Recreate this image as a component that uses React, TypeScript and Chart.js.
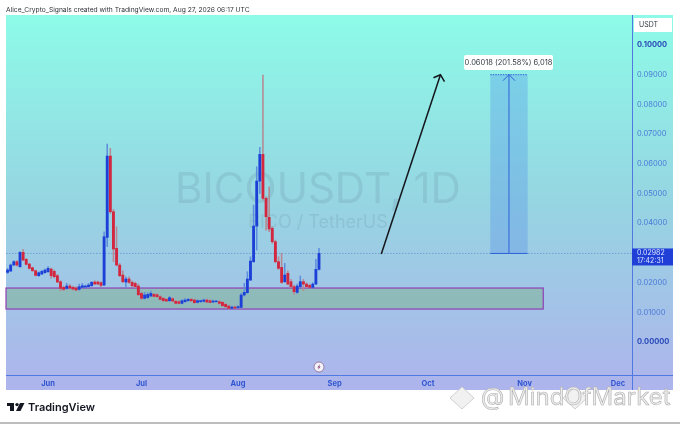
import { useEffect, useRef } from 'react';
import { Chart, registerables } from 'chart.js';

Chart.register(...registerables);

const startDate = Date.UTC(2026, 4, 19);
const dayMs = 86400000;
// one category per day, May 19 -> Dec 5
const days = Array.from({ length: 201 }, (_, i) => new Date(startDate + i * dayMs).toISOString().slice(0, 10));

const opens = [
  0.02345, 0.0239, 0.02592, 0.02704, 0.02536, 0.03018, 0.02783, 0.02625, 0.02502, 0.02401,
  0.02233, 0.02289, 0.02334, 0.02367, 0.02457, 0.02379, 0.02233, 0.02031, 0.0184, 0.01806,
  0.01885, 0.0184, 0.01818, 0.01773, 0.0184, 0.01851, 0.01863, 0.01896, 0.0202, 0.0202,
  0.01997, 0.01919, 0.03523, 0.06261, 0.04387, 0.03153, 0.02592, 0.02255, 0.0202, 0.02121,
  0.02008, 0.01975, 0.01885, 0.01638, 0.0147, 0.01492, 0.01548, 0.01604, 0.01593, 0.01526,
  0.0147, 0.01436, 0.01391, 0.01459, 0.01369, 0.01358, 0.01302, 0.01358, 0.01391, 0.01436,
  0.01414, 0.01335, 0.01358, 0.01369, 0.01414, 0.01391, 0.01346, 0.01358, 0.01358, 0.01335,
  0.01268, 0.01212, 0.01133, 0.01178, 0.01156, 0.01167, 0.01582, 0.01661, 0.02087, 0.02704,
  0.03905, 0.05419, 0.06317, 0.04836, 0.04196, 0.03826, 0.03377, 0.02704, 0.02513, 0.02031,
  0.02311, 0.02031, 0.01863, 0.01672, 0.01863, 0.02031, 0.01952, 0.01907, 0.0184, 0.01952,
  0.02446,
];
const highs = [
  0.0248, 0.02625, 0.02738, 0.02738, 0.03041, 0.03119, 0.02816, 0.02648, 0.02525, 0.02424,
  0.02367, 0.02412, 0.02457, 0.02536, 0.02491, 0.02424, 0.02278, 0.02064, 0.01885, 0.01975,
  0.01941, 0.01885, 0.01863, 0.01952, 0.01975, 0.01919, 0.01975, 0.02042, 0.02064, 0.02053,
  0.02031, 0.03714, 0.06665, 0.06519, 0.04466, 0.03882, 0.02648, 0.02401, 0.02199, 0.02199,
  0.02064, 0.0202, 0.01952, 0.01683, 0.01672, 0.01661, 0.01717, 0.01638, 0.01627, 0.0156,
  0.01503, 0.0147, 0.01537, 0.01492, 0.01403, 0.01391, 0.01425, 0.01459, 0.0147, 0.0147,
  0.01447, 0.01425, 0.01414, 0.01447, 0.01447, 0.01425, 0.01414, 0.01403, 0.01391, 0.01369,
  0.01302, 0.01245, 0.01212, 0.01212, 0.01223, 0.01638, 0.01975, 0.02367, 0.02872, 0.04611,
  0.05902, 0.06552, 0.08987, 0.04892, 0.05229, 0.03882, 0.03433, 0.02872, 0.02985, 0.02648,
  0.02401, 0.02109, 0.01919, 0.01952, 0.02222, 0.02109, 0.01997, 0.01952, 0.01997, 0.02783,
  0.03153,
];
const lows = [
  0.02311, 0.02367, 0.02569, 0.02558, 0.02513, 0.02738, 0.02592, 0.02457, 0.02379, 0.02222,
  0.0221, 0.02267, 0.02311, 0.02345, 0.02143, 0.02165, 0.01997, 0.01728, 0.01728, 0.01773,
  0.01784, 0.0175, 0.01728, 0.0175, 0.01818, 0.01829, 0.0184, 0.01874, 0.0193, 0.0193,
  0.01863, 0.01896, 0.03209, 0.04331, 0.02704, 0.02558, 0.02199, 0.01997, 0.0184, 0.01975,
  0.01863, 0.01829, 0.0156, 0.01436, 0.01447, 0.0147, 0.01526, 0.01515, 0.01503, 0.01414,
  0.01369, 0.01358, 0.01369, 0.01358, 0.01279, 0.01279, 0.01279, 0.01335, 0.01369, 0.01358,
  0.01302, 0.01313, 0.01335, 0.01346, 0.01324, 0.01313, 0.01324, 0.01335, 0.01279, 0.01201,
  0.01167, 0.011, 0.01111, 0.01122, 0.01133, 0.01144, 0.01548, 0.01638, 0.02064, 0.02682,
  0.03097, 0.05004, 0.0478, 0.0377, 0.03714, 0.03321, 0.0267, 0.02446, 0.01975, 0.02008,
  0.01919, 0.01829, 0.01604, 0.01638, 0.0184, 0.01728, 0.01829, 0.01818, 0.01818, 0.0193,
  0.02423,
];
const closes = [
  0.02424, 0.02592, 0.02704, 0.02592, 0.03018, 0.0276, 0.02614, 0.0248, 0.02401, 0.02244,
  0.02334, 0.02379, 0.02424, 0.0248, 0.02233, 0.02199, 0.0202, 0.01806, 0.01773, 0.01885,
  0.01818, 0.01784, 0.0175, 0.01863, 0.01896, 0.01885, 0.01919, 0.02008, 0.01952, 0.01952,
  0.01907, 0.03546, 0.06261, 0.04387, 0.0313, 0.02592, 0.02233, 0.02031, 0.02121, 0.02008,
  0.01896, 0.01863, 0.01593, 0.0147, 0.01582, 0.01604, 0.01638, 0.01537, 0.01526, 0.01436,
  0.01391, 0.0138, 0.01492, 0.0138, 0.01302, 0.01302, 0.01391, 0.01414, 0.01436, 0.01391,
  0.01324, 0.01391, 0.01391, 0.01414, 0.01346, 0.01335, 0.0138, 0.0138, 0.01302, 0.01223,
  0.01189, 0.01133, 0.01178, 0.01144, 0.01189, 0.01582, 0.01672, 0.02121, 0.02726, 0.03905,
  0.05419, 0.06317, 0.04836, 0.04219, 0.03804, 0.03377, 0.02704, 0.0248, 0.02008, 0.02255,
  0.01952, 0.01863, 0.01694, 0.01885, 0.02031, 0.01952, 0.01863, 0.0184, 0.01952, 0.02446,
  0.02985,
];

const priceTicks = [0, 0.01, 0.02, 0.03, 0.04, 0.05, 0.06, 0.07, 0.08, 0.09, 0.1];
const boldTicks = [0, 0.1];
const monthIndexes = [13, 43, 74, 105, 135, 166, 196];
const monthLabels = ['Jun', 'Jul', 'Aug', 'Sep', 'Oct', 'Nov', 'Dec'];

const lastPrice = 0.02982;
const targetPrice = 0.09;
const zoneLow = 0.01111;
const zoneHigh = 0.01818;
const arrowX = [120, 139];
const arrowY = [0.02963, 0.09];

const UP = '#1c3fd8';
const DOWN = '#d3263f';
const UP_WICK = '#5f8fdc';
const DOWN_WICK = '#b58a92';

const isUp = (i: number) => closes[i] >= opens[i];

const overlay = {
  id: 'overlay',
  beforeDraw(chart: any) {
    const { ctx } = chart;
    const g = ctx.createLinearGradient(0, 15, 0, 390);
    g.addColorStop(0, '#8dfbe8');
    g.addColorStop(0.5, '#96d5e2');
    g.addColorStop(1, '#aeb4ec');
    ctx.save();
    ctx.fillStyle = g;
    ctx.fillRect(6, 15, 667, 375);
    ctx.restore();
  },
  beforeDatasetsDraw(chart: any) {
    const { ctx, scales } = chart;
    const x = scales.x;
    const y = scales.y;
    ctx.save();

    // symbol watermark
    ctx.textAlign = 'center';
    ctx.textBaseline = 'middle';
    ctx.fillStyle = 'rgba(90,120,140,0.17)';
    ctx.font = '42px Inter';
    ctx.fillText('BICOUSDT, 1D', 318, 190);
    ctx.font = '18px Inter';
    ctx.fillText('BICO / TetherUS', 318, 223);

    // support zone
    const zoneTop = y.getPixelForValue(zoneHigh);
    const zoneBottom = y.getPixelForValue(zoneLow);
    const zoneRight = x.getPixelForValue(172);
    ctx.fillStyle = 'rgba(120,175,130,0.45)';
    ctx.fillRect(x.left, zoneTop, zoneRight - x.left, zoneBottom - zoneTop);
    ctx.strokeStyle = '#8e3fb4';
    ctx.lineWidth = 1.2;
    ctx.strokeRect(x.left, zoneTop, zoneRight - x.left, zoneBottom - zoneTop);

    // last price line
    const lastY = y.getPixelForValue(lastPrice);
    ctx.strokeStyle = 'rgba(60,100,190,0.55)';
    ctx.lineWidth = 0.8;
    ctx.setLineDash([1.5, 1.5]);
    ctx.beginPath();
    ctx.moveTo(x.left, lastY);
    ctx.lineTo(x.right, lastY);
    ctx.stroke();
    ctx.setLineDash([]);

    // measure box
    const bl = x.getPixelForValue(155);
    const br = x.getPixelForValue(167);
    const bc = x.getPixelForValue(161);
    const bt = y.getPixelForValue(targetPrice);
    ctx.fillStyle = 'rgba(70,130,235,0.28)';
    ctx.fillRect(bl, bt, br - bl, lastY - bt);
    ctx.strokeStyle = '#2f62d8';
    ctx.lineWidth = 1;
    ctx.beginPath();
    ctx.moveTo(bl, lastY);
    ctx.lineTo(br, lastY);
    ctx.moveTo(bc, lastY);
    ctx.lineTo(bc, bt);
    ctx.moveTo(bc - 6, bt + 6);
    ctx.lineTo(bc, bt);
    ctx.lineTo(bc + 6, bt + 6);
    ctx.stroke();
    ctx.setLineDash([1.5, 1]);
    ctx.beginPath();
    ctx.moveTo(bl, bt);
    ctx.lineTo(br, bt);
    ctx.stroke();
    ctx.restore();
  },
  afterDatasetsDraw(chart: any) {
    const { ctx, scales } = chart;
    const x = scales.x;
    const y = scales.y;
    ctx.save();

    // arrow head on the drawn line
    const tipX = x.getPixelForValue(arrowX[1]);
    const tipY = y.getPixelForValue(arrowY[1]);
    ctx.strokeStyle = '#14161c';
    ctx.lineWidth = 1.5;
    ctx.beginPath();
    ctx.moveTo(tipX - 7, tipY + 3);
    ctx.lineTo(tipX, tipY);
    ctx.lineTo(tipX + 4, tipY + 7);
    ctx.stroke();

    // measure label
    ctx.fillStyle = '#ffffff';
    ctx.beginPath();
    ctx.roundRect(464, 55, 89, 15, 2);
    ctx.fill();
    ctx.fillStyle = '#333a44';
    ctx.font = '7.5px Inter';
    ctx.textAlign = 'center';
    ctx.textBaseline = 'middle';
    ctx.fillText('0.06018 (201.58%) 6,018', 508.5, 62.5);

    // axis frame
    ctx.strokeStyle = '#4f78e0';
    ctx.lineWidth = 1;
    ctx.beginPath();
    ctx.moveTo(632.5, 15);
    ctx.lineTo(632.5, 390);
    ctx.moveTo(6, 375.5);
    ctx.lineTo(673, 375.5);
    ctx.stroke();

    // currency tag
    ctx.fillStyle = '#ffffff';
    ctx.fillRect(634, 18, 38, 14);
    ctx.fillStyle = '#333a44';
    ctx.font = '7px Inter';
    ctx.textAlign = 'left';
    ctx.fillText('USDT', 639, 25);

    // last price tag
    const lastY = y.getPixelForValue(lastPrice);
    ctx.fillStyle = '#1f3fd6';
    ctx.fillRect(632, lastY - 5, 41, 17);
    ctx.fillStyle = '#dfe6ff';
    ctx.fillText('0.02982', 637, lastY - 0.5);
    ctx.fillText('17:42:31', 637, lastY + 7.5);

    // lightning badge
    const bx = x.getPixelForValue(100);
    ctx.fillStyle = '#f4f2fa';
    ctx.strokeStyle = '#8a6a8f';
    ctx.lineWidth = 0.8;
    ctx.beginPath();
    ctx.arc(bx, 367, 5, 0, Math.PI * 2);
    ctx.fill();
    ctx.stroke();
    ctx.fillStyle = '#8a4a70';
    ctx.beginPath();
    ctx.moveTo(bx + 1, 364);
    ctx.lineTo(bx - 1.6, 367.6);
    ctx.lineTo(bx - 0.2, 367.6);
    ctx.lineTo(bx - 1, 370);
    ctx.lineTo(bx + 1.6, 366.4);
    ctx.lineTo(bx + 0.2, 366.4);
    ctx.closePath();
    ctx.fill();

    // header
    ctx.fillStyle = '#2e3238';
    ctx.font = '6.7px Inter';
    ctx.textAlign = 'left';
    ctx.fillText('Alice_Crypto_Signals created with TradingView.com, Aug 27, 2026 06:17 UTC', 6, 10);

    // TradingView logo
    ctx.fillStyle = '#131722';
    ctx.fillRect(7, 403, 7, 3);
    ctx.fillRect(10, 403, 4, 8);
    ctx.beginPath();
    ctx.arc(17, 404.6, 1.7, 0, Math.PI * 2);
    ctx.fill();
    ctx.beginPath();
    ctx.moveTo(20, 403);
    ctx.lineTo(24.5, 403);
    ctx.lineTo(20.5, 411);
    ctx.lineTo(16, 411);
    ctx.closePath();
    ctx.fill();
    ctx.font = '600 11px Inter';
    ctx.textBaseline = 'middle';
    ctx.fillText('TradingView', 28, 407.5);

    // footer line and repost watermark
    ctx.fillStyle = '#bdbdbd';
    ctx.fillRect(0, 422, 680, 2);
    const diamond = (cx: number, cy: number) => {
      ctx.strokeStyle = '#d0d0d0';
      ctx.fillStyle = '#f1f1f1';
      ctx.lineWidth = 1;
      ctx.beginPath();
      ctx.moveTo(cx, cy - 11);
      ctx.lineTo(cx + 12, cy);
      ctx.lineTo(cx, cy + 11);
      ctx.lineTo(cx - 12, cy);
      ctx.closePath();
      ctx.fill();
      ctx.stroke();
    };
    diamond(462, 398);
    diamond(575, 398);
    ctx.font = '24px Inter';
    ctx.fillStyle = '#ececec';
    ctx.strokeStyle = '#b0b0b0';
    ctx.lineWidth = 0.6;
    ctx.textBaseline = 'middle';
    ctx.fillText('@', 481, 398);
    ctx.strokeText('@', 481, 398);
    ctx.fillText('MindOfMarket', 508, 398);
    ctx.strokeText('MindOfMarket', 508, 398);
    ctx.restore();
  },
};

export default function App() {
  const canvasRef = useRef<HTMLCanvasElement>(null);

  useEffect(() => {
    if (!canvasRef.current) return;
    const wicks = opens.map((_, i) => [lows[i], highs[i]]);
    const bodies = opens.map((o, i) => [o, closes[i]]);
    const arrowData = arrowX.map((v, i) => ({ x: days[v], y: arrowY[i] }));

    const chart = new Chart(canvasRef.current, {
      type: 'bar',
      data: {
        labels: days,
        datasets: [
          {
            type: 'line',
            label: 'Projection',
            data: arrowData as any,
            borderColor: '#14161c',
            borderWidth: 1.5,
            pointRadius: 0,
            order: 0,
          },
          {
            label: 'Body',
            data: bodies as any,
            backgroundColor: opens.map((_, i) => (isUp(i) ? UP : DOWN)),
            barThickness: 2.2,
            grouped: false,
            order: 1,
          },
          {
            label: 'Wick',
            data: wicks as any,
            backgroundColor: opens.map((_, i) => (isUp(i) ? UP_WICK : DOWN_WICK)),
            barThickness: 0.9,
            grouped: false,
            order: 2,
          },
        ],
      },
      options: {
        responsive: false,
        animation: false,
        layout: { padding: { left: 6, right: 7, top: 15, bottom: 34 } },
        plugins: { legend: { display: false }, tooltip: { enabled: false } },
        scales: {
          x: {
            type: 'category',
            grid: { display: false, drawTicks: false },
            border: { display: false },
            afterFit: (scale: any) => {
              scale.height = 15;
            },
            afterBuildTicks: (scale: any) => {
              scale.ticks = monthIndexes.map((value) => ({ value }));
            },
            ticks: {
              autoSkip: false,
              maxRotation: 0,
              padding: 4,
              color: '#2f55d0',
              font: { family: 'Inter', size: 7.5, weight: 'bold' },
              callback: (value: any) => monthLabels[monthIndexes.indexOf(Number(value))],
            },
          },
          y: {
            type: 'linear',
            position: 'right',
            min: -0.0111,
            max: 0.1101,
            grid: { display: false, drawTicks: false },
            border: { display: false },
            afterFit: (scale: any) => {
              scale.width = 41;
            },
            afterBuildTicks: (scale: any) => {
              scale.ticks = priceTicks.map((value) => ({ value }));
            },
            ticks: {
              padding: 5,
              color: (c: any) => (boldTicks.includes(c.tick?.value) ? '#2a49b8' : '#4a78d8'),
              font: (c: any) => ({
                family: 'Inter',
                size: 7.5,
                weight: boldTicks.includes(c.tick?.value) ? 'bold' : 'normal',
              }),
              callback: (value: any) => Number(value).toFixed(5),
            },
          },
        },
      },
      plugins: [overlay],
    });

    return () => {
      chart.destroy();
    };
  }, []);

  return (
    <div style={{ position: 'absolute', left: 0, top: 0, width: 680, height: 424, background: '#fff' }}>
      <canvas ref={canvasRef} width={680} height={424}></canvas>
    </div>
  );
}
